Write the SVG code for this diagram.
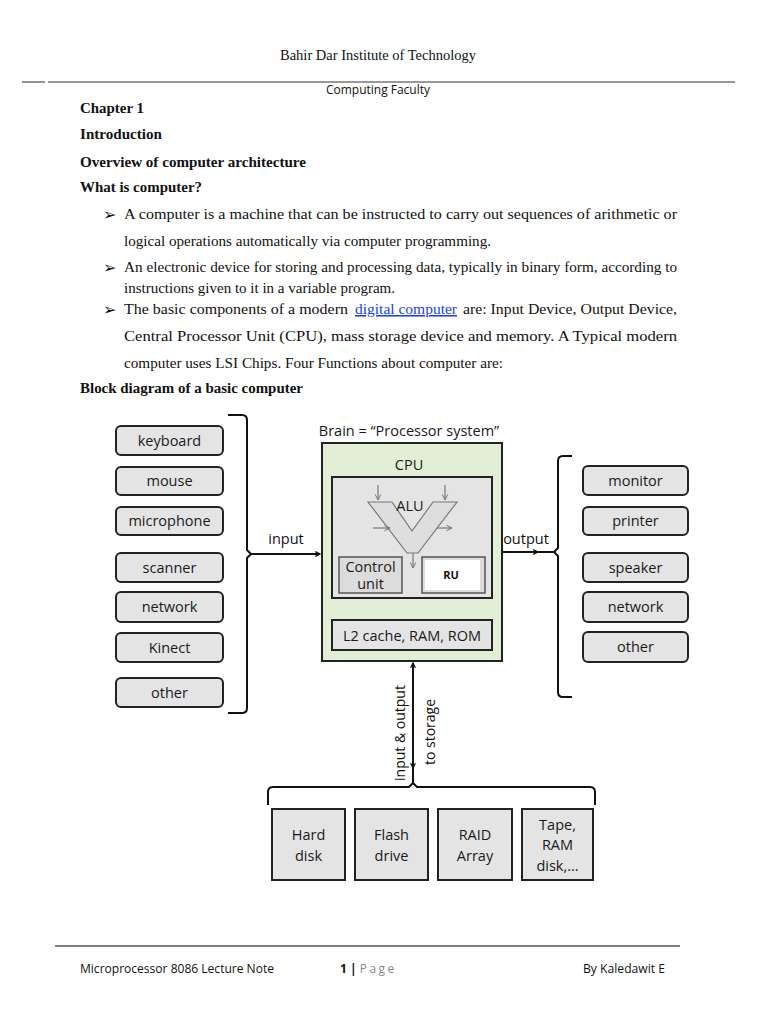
<svg xmlns="http://www.w3.org/2000/svg" width="768" height="1024" viewBox="0 0 768 1024">
<style>
.ser{font-family:"Liberation Serif","Times New Roman",serif;font-size:15.5px;fill:#111}
.b{font-weight:bold;font-size:15px}
.sans{font-family:"Open Sans","Noto Sans",sans-serif;fill:#111}
.dg{font-family:"Open Sans","Noto Sans",sans-serif;font-size:14.5px;fill:#1a1a1a;text-anchor:middle}
.dev{fill:#e4e4e4;stroke:#222;stroke-width:2}
.sto{fill:#e4e4e4;stroke:#222;stroke-width:2}
.ln{fill:none;stroke:#111;stroke-width:2}
.thin{fill:none;stroke:#777;stroke-width:1.2}
.bul{font-family:"DejaVu Sans",sans-serif;font-size:16px;fill:#111}
</style>
<defs>
<marker id="ah" viewBox="0 0 10 10" refX="9" refY="5" markerWidth="6" markerHeight="6" orient="auto-start-reverse" markerUnits="userSpaceOnUse">
<path d="M1,1 L9,5 L1,9" fill="none" stroke="#111" stroke-width="2"/>
</marker>
<marker id="sah" viewBox="0 0 10 10" refX="9" refY="5" markerWidth="7" markerHeight="7" orient="auto" markerUnits="userSpaceOnUse">
<path d="M1,1 L9,5 L1,9" fill="none" stroke="#777" stroke-width="1.4"/>
</marker>
</defs>
<rect width="768" height="1024" fill="#fff"/>

<!-- header -->
<text class="ser" x="378" y="60" font-size="15" text-anchor="middle" textLength="196" lengthAdjust="spacingAndGlyphs">Bahir Dar Institute of Technology</text>
<line x1="22" y1="82" x2="45" y2="82" stroke="#777" stroke-width="1.6"/>
<line x1="48" y1="82" x2="735" y2="82" stroke="#777" stroke-width="1.6"/>
<text class="sans" x="378" y="94" font-size="12" text-anchor="middle" textLength="104" lengthAdjust="spacingAndGlyphs">Computing Faculty</text>

<!-- body text -->
<text class="ser b" x="80" y="113" textLength="64" lengthAdjust="spacingAndGlyphs">Chapter 1</text>
<text class="ser b" x="80" y="139" textLength="82" lengthAdjust="spacingAndGlyphs">Introduction</text>
<text class="ser b" x="80" y="167" textLength="226" lengthAdjust="spacingAndGlyphs">Overview of computer architecture</text>
<text class="ser b" x="80" y="192" textLength="122" lengthAdjust="spacingAndGlyphs">What is computer?</text>

<text class="bul" x="103" y="220">➢</text>
<text class="ser" x="124" y="219" textLength="553" lengthAdjust="spacingAndGlyphs">A computer is a machine that can be instructed to carry out sequences of arithmetic or</text>
<text class="ser" x="124" y="246" textLength="367" lengthAdjust="spacingAndGlyphs">logical operations automatically via computer programming.</text>
<text class="bul" x="103" y="273">➢</text>
<text class="ser" x="124" y="272" textLength="553" lengthAdjust="spacingAndGlyphs">An electronic device for storing and processing data, typically in binary form, according to</text>
<text class="ser" x="124" y="293" textLength="271" lengthAdjust="spacingAndGlyphs">instructions given to it in a variable program.</text>
<text class="bul" x="103" y="315">➢</text>
<text class="ser" x="124" y="314" textLength="224" lengthAdjust="spacingAndGlyphs">The basic components of a modern</text>
<text class="ser" x="355" y="314" textLength="102" lengthAdjust="spacingAndGlyphs" text-decoration="underline" style="fill:#1a3ee8">digital computer</text>
<text class="ser" x="463" y="314" textLength="214" lengthAdjust="spacingAndGlyphs">are: Input Device, Output Device,</text>
<text class="ser" x="124" y="341" textLength="553" lengthAdjust="spacingAndGlyphs">Central Processor Unit (CPU), mass storage device and memory. A Typical modern</text>
<text class="ser" x="124" y="368" textLength="379" lengthAdjust="spacingAndGlyphs">computer uses LSI Chips.  Four Functions about computer are:</text>
<text class="ser b" x="80" y="393" textLength="223" lengthAdjust="spacingAndGlyphs">Block diagram of a basic computer</text>

<!-- connectors -->
<g id="connectors">
<path class="ln" d="M228,415 H242 Q247,415 247,420 V550 L251,554 L247,558 V708 Q247,713 242,713 H228"/>
<line class="ln" x1="251" y1="554" x2="320" y2="554" marker-end="url(#ah)"/>
<path class="ln" d="M572,456 H563 Q558,456 558,461 V548 L554,552 L558,556 V692 Q558,697 563,697 H572"/>
<line class="ln" x1="502" y1="552" x2="538" y2="552" marker-end="url(#ah)"/>
<line class="ln" x1="536" y1="552" x2="554" y2="552"/>
<path class="ln" d="M268,805 V792 Q268,787 273,787 H409 L413,783 L417,787 H590 Q595,787 595,792 V805"/>
<line class="ln" x1="413" y1="663" x2="413" y2="768" marker-start="url(#ah)" marker-end="url(#ah)"/>
<line class="ln" x1="413" y1="766" x2="413" y2="783"/>
<text class="sans" x="286" y="544" font-size="14.5" text-anchor="middle">input</text>
<text class="sans" x="526" y="544" font-size="14.5" text-anchor="middle">output</text>
<text class="sans" font-size="14" text-anchor="middle" transform="translate(405,733) rotate(-90)">input &amp; output</text>
<text class="sans" font-size="14" text-anchor="middle" transform="translate(435,732) rotate(-90)">to storage</text>
</g>

<!-- input devices -->
<g id="keyboard"><rect class="dev" x="116" y="426" width="107" height="29" rx="5"/><text class="dg" x="169.5" y="446">keyboard</text></g>
<g id="mouse"><rect class="dev" x="116" y="467" width="107" height="28" rx="5"/><text class="dg" x="169.5" y="486">mouse</text></g>
<g id="microphone"><rect class="dev" x="116" y="507" width="107" height="28" rx="5"/><text class="dg" x="169.5" y="526">microphone</text></g>
<g id="scanner"><rect class="dev" x="116" y="553" width="107" height="29" rx="5"/><text class="dg" x="169.5" y="573">scanner</text></g>
<g id="network-in"><rect class="dev" x="116" y="592" width="107" height="30" rx="5"/><text class="dg" x="169.5" y="612">network</text></g>
<g id="kinect"><rect class="dev" x="116" y="633" width="107" height="29" rx="5"/><text class="dg" x="169.5" y="653">Kinect</text></g>
<g id="other-in"><rect class="dev" x="116" y="678" width="107" height="29" rx="5"/><text class="dg" x="169.5" y="698">other</text></g>

<!-- processor system -->
<g id="processor">
<text class="dg" x="409" y="436" font-size="15">Brain = “Processor system”</text>
<rect x="322" y="443" width="180" height="218" fill="#e2efd6" stroke="#222" stroke-width="2"/>
<text class="dg" x="409" y="470">CPU</text>
<rect x="332" y="477" width="160" height="121" fill="#e4e4e4" stroke="#222" stroke-width="2"/>
<polygon points="368,502 392,502 412,531 433,502 457,502 418,553 407,553" fill="#dedede" stroke="#777" stroke-width="1.2"/>
<text class="dg" x="410" y="511" font-size="13.5">ALU</text>
<line class="thin" x1="378" y1="485" x2="378" y2="500" marker-end="url(#sah)"/>
<line class="thin" x1="445" y1="485" x2="445" y2="500" marker-end="url(#sah)"/>
<line class="thin" x1="373" y1="528" x2="390" y2="528" marker-end="url(#sah)"/>
<line class="thin" x1="437" y1="528" x2="452" y2="528" marker-end="url(#sah)"/>
<line class="thin" x1="413" y1="553" x2="413" y2="568" marker-end="url(#sah)"/>
<g id="control-unit"><rect x="339" y="557" width="63" height="36" fill="#dcdcdc" stroke="#555" stroke-width="1.5"/>
<text class="dg" x="370.5" y="572" font-size="13">Control</text><text class="dg" x="370.5" y="589" font-size="13">unit</text></g>
<g id="ru"><rect x="422" y="557" width="63" height="36" fill="#dcdcdc" stroke="#555" stroke-width="1.5"/>
<rect x="425" y="560" width="55" height="30" fill="#fff"/>
<text x="451" y="579" font-family="Open Sans, Noto Sans, sans-serif" font-size="11" font-weight="bold" text-anchor="middle" fill="#111">RU</text></g>
<g id="memory"><rect x="332" y="620" width="160" height="30" fill="#e4e4e4" stroke="#222" stroke-width="2"/>
<text class="dg" x="412" y="641">L2 cache, RAM, ROM</text></g>
</g>

<!-- output devices -->
<g id="monitor"><rect class="dev" x="583" y="466" width="105" height="29" rx="5"/><text class="dg" x="635.5" y="486">monitor</text></g>
<g id="printer"><rect class="dev" x="583" y="507" width="105" height="28" rx="5"/><text class="dg" x="635.5" y="526">printer</text></g>
<g id="speaker"><rect class="dev" x="583" y="553" width="105" height="29" rx="5"/><text class="dg" x="635.5" y="573">speaker</text></g>
<g id="network-out"><rect class="dev" x="583" y="592" width="105" height="30" rx="5"/><text class="dg" x="635.5" y="612">network</text></g>
<g id="other-out"><rect class="dev" x="583" y="632" width="105" height="30" rx="5"/><text class="dg" x="635.5" y="652">other</text></g>

<!-- storage -->
<g id="hard-disk"><rect class="sto" x="272" y="809" width="73" height="71"/><text class="dg" x="308.5" y="840">Hard</text><text class="dg" x="308.5" y="861">disk</text></g>
<g id="flash-drive"><rect class="sto" x="355" y="809" width="73" height="71"/><text class="dg" x="391.5" y="840">Flash</text><text class="dg" x="391.5" y="861">drive</text></g>
<g id="raid"><rect class="sto" x="438" y="809" width="74" height="71"/><text class="dg" x="475" y="840">RAID</text><text class="dg" x="475" y="861">Array</text></g>
<g id="tape"><rect class="sto" x="522" y="809" width="71" height="71"/><text class="dg" x="557.5" y="830">Tape,</text><text class="dg" x="557.5" y="850">RAM</text><text class="dg" x="557.5" y="871">disk,...</text></g>

<!-- footer -->
<line x1="55" y1="946" x2="680" y2="946" stroke="#555" stroke-width="1.3"/>
<text class="sans" x="80" y="973" font-size="12" textLength="194" lengthAdjust="spacingAndGlyphs">Microprocessor 8086 Lecture Note</text>
<text class="sans" x="340" y="973" font-size="12"><tspan font-weight="bold">1</tspan><tspan font-weight="bold"> | </tspan><tspan fill="#888" letter-spacing="2.5">Page</tspan></text>
<text class="sans" x="665" y="973" font-size="12" text-anchor="end" textLength="82" lengthAdjust="spacingAndGlyphs">By Kaledawit E</text>
</svg>
